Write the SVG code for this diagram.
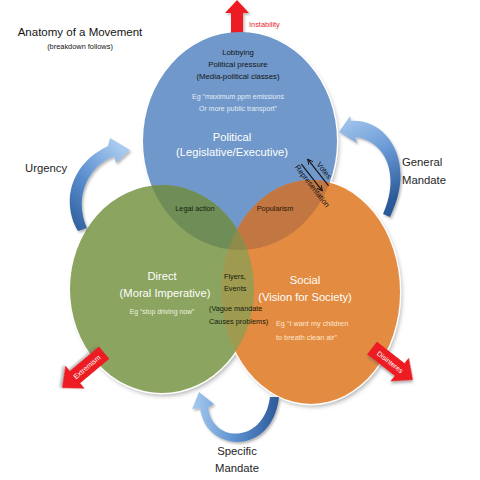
<svg xmlns="http://www.w3.org/2000/svg" width="480" height="480" viewBox="0 0 480 480">
<defs>
<style>
text{font-family:"Liberation Sans",Arial,sans-serif}
.c{text-anchor:middle}
.dk{fill:#141414}
.ti{font-size:11.2px;fill:#ffffff}
.sm{font-size:7.8px}
.ov{font-size:7.3px;fill:#15200e}
.lb{font-size:11.3px;fill:#1e1e1e}
.egb{font-size:7px;fill:#e3ecf7}
.egg{font-size:6.9px;fill:#eef3e2}
.ego{font-size:7.3px;fill:#fde7cf}
.red{fill:#ec1c24}
.rt{font-size:7px;fill:#ffffff}
.vt{font-size:7.6px;fill:#111111}
.ln{stroke:#111;stroke-width:1.1;fill:none}
</style>
<filter id="sh" x="-20%" y="-20%" width="140%" height="140%"><feGaussianBlur stdDeviation="2"/></filter>
<filter id="ash" x="-30%" y="-30%" width="160%" height="160%"><feDropShadow dx="1.5" dy="2" stdDeviation="1.2" flood-color="#666" flood-opacity="0.45"/></filter>
<clipPath id="cB"><ellipse cx="240" cy="141" rx="97" ry="109"/></clipPath>
<clipPath id="cG"><ellipse cx="162" cy="289" rx="92" ry="104"/></clipPath>
<linearGradient id="gU" x1="0" y1="1" x2="0.7" y2="0"><stop offset="0" stop-color="#2c5a98"/><stop offset="0.5" stop-color="#5b8fd0"/><stop offset="1" stop-color="#a9cbef"/></linearGradient>
<linearGradient id="gM" x1="0" y1="0" x2="0.3" y2="1"><stop offset="0" stop-color="#a9cbef"/><stop offset="0.5" stop-color="#6a9ad6"/><stop offset="1" stop-color="#2c5a98"/></linearGradient>
<linearGradient id="gS" x1="0" y1="0" x2="1" y2="0"><stop offset="0" stop-color="#a9cbef"/><stop offset="0.5" stop-color="#5b8fd0"/><stop offset="1" stop-color="#2c5a98"/></linearGradient>
<marker id="oa" viewBox="0 0 8 8" refX="7" refY="4" markerWidth="6" markerHeight="6" orient="auto" markerUnits="userSpaceOnUse"><path d="M0,0.5 L7,4 L0,7.5" fill="none" stroke="#111" stroke-width="1.2"/></marker>
</defs>
<rect width="480" height="480" fill="#ffffff"/>

<g id="title">
<text x="80" y="36" class="c dk" font-size="11.5">Anatomy of a Movement</text>
<text x="80" y="49" class="c dk" font-size="7.4">(breakdown follows)</text>
</g>

<g id="shadows">
<g filter="url(#sh)" fill="#b5b5b5" transform="translate(2,3)">
<ellipse cx="240" cy="141" rx="97" ry="109"/>
<ellipse cx="162" cy="289" rx="92" ry="104"/>
<ellipse cx="311" cy="292" rx="89" ry="112"/>
</g>
<g fill="#ffffff">
<ellipse cx="240" cy="141" rx="98.5" ry="110.5"/>
<ellipse cx="162" cy="289" rx="93.5" ry="105.5"/>
<ellipse cx="311" cy="292" rx="90.5" ry="113.5"/>
</g>
</g>

<g id="instability-arrow">
<path class="red" filter="url(#ash)" d="M237,0 L249,13 L243,13 L243,40 L231,40 L231,13 L225,13 Z"/>
</g>

<g id="political">
<ellipse cx="240" cy="141" rx="97" ry="109" fill="#7098ca"/>
<text x="238" y="55" class="c dk sm">Lobbying</text>
<text x="238" y="67" class="c dk sm">Political pressure</text>
<text x="238" y="79" class="c dk sm">(Media-political classes)</text>
<text x="238" y="99" class="c egb">Eg “maximum ppm emissions</text>
<text x="238" y="111" class="c egb">Or more public transport”</text>
<text x="232" y="141" class="c ti">Political</text>
<text x="232" y="156" class="c ti">(Legislative/Executive)</text>
</g>

<g id="direct">
<ellipse cx="162" cy="289" rx="92" ry="104" fill="#8ba45f"/>
<text x="162" y="280" class="c ti">Direct</text>
<text x="165" y="297" class="c ti">(Moral Imperative)</text>
<text x="162" y="314" class="c egg">Eg “stop driving now”</text>
</g>

<g id="social">
<ellipse cx="311" cy="292" rx="89" ry="112" fill="#e38b40"/>
<text x="305" y="284" class="c ti">Social</text>
<text x="305" y="301" class="c ti">(Vision for Society)</text>
<text x="276" y="326" class="ego">Eg “I want my children</text>
<text x="276" y="340" class="ego">to breath clean air”</text>
</g>

<g id="legal-action">
<g clip-path="url(#cB)"><ellipse cx="162" cy="289" rx="92" ry="104" fill="#6f8e57"/></g>
<text x="195" y="211" class="c ov">Legal action</text>
</g>

<g id="popularism">
<g clip-path="url(#cB)"><ellipse cx="311" cy="292" rx="89" ry="112" fill="#c27641"/></g>
<text x="275" y="211" class="c ov" style="fill:#2a1607">Popularism</text>
</g>

<g id="flyers-events">
<g clip-path="url(#cG)"><ellipse cx="311" cy="292" rx="89" ry="112" fill="#9e9b50"/></g>
<g clip-path="url(#cB)"><g clip-path="url(#cG)"><ellipse cx="311" cy="292" rx="89" ry="112" fill="#8f8a4a"/></g></g>
<text x="224" y="279" class="ov">Flyers,</text>
<text x="224" y="291" class="ov">Events</text>
<text x="209" y="311" class="ov">(Vague mandate</text>
<text x="209" y="324" class="ov">Causes problems)</text>
</g>

<g id="connectors">
<g id="urgency" filter="url(#ash)">
<path fill="url(#gU)" d="M78,231 C62,205 68,165 108,146 L110,138 L130,150 L116,163 L114,156 C86,167 74,200 87,228 Z"/>
</g>
<text x="25" y="172" class="lb">Urgency</text>

<g id="general-mandate" filter="url(#ash)">
<path fill="url(#gM)" d="M351,121 C385,118 418,160 390,217 L383,214 C402,170 382,140 355,137 L357,143 L339,132 L350,116 Z"/>
</g>
<text x="402" y="166" class="lb">General</text>
<text x="402" y="184" class="lb">Mandate</text>

<g id="specific-mandate" filter="url(#ash)">
<path fill="url(#gS)" d="M279,397 C272,458 205,452 200,408 L192,409 L199,392 L214,404 L208,407 C212,444 264,444 270,397 Z"/>
</g>
<text x="237" y="455" class="c lb">Specific</text>
<text x="237" y="472" class="c lb">Mandate</text>

<g id="votes-representation" transform="translate(315,175) rotate(52)">
<line class="ln" x1="17" y1="-4" x2="-17" y2="-4" marker-end="url(#oa)"/>
<line class="ln" x1="-17" y1="4" x2="17" y2="4" marker-end="url(#oa)"/>
<text x="2" y="-7.5" class="c vt">Votes</text>
<text x="7" y="11.5" class="c vt">Representation</text>
</g>

<text x="249" y="27" font-size="7.4" fill="#e8262d">Instability</text>

<g id="extremism">
<path class="red" filter="url(#ash)" transform="translate(62,388) rotate(140)" d="M0,0 L-17,-15 L-17,-8 L-55,-8 L-55,8 L-17,8 L-17,15 Z"/>
<text class="c rt" transform="translate(87,367) rotate(-40)" y="2.5">Extremism</text>
</g>

<g id="disinteres">
<path class="red" filter="url(#ash)" transform="translate(413,380) rotate(38)" d="M0,0 L-17,-15 L-17,-8 L-52,-8 L-52,8 L-17,8 L-17,15 Z"/>
<text class="c rt" transform="translate(390,362) rotate(38)" y="2.5">Disinteres</text>
</g>
</g>
</svg>
